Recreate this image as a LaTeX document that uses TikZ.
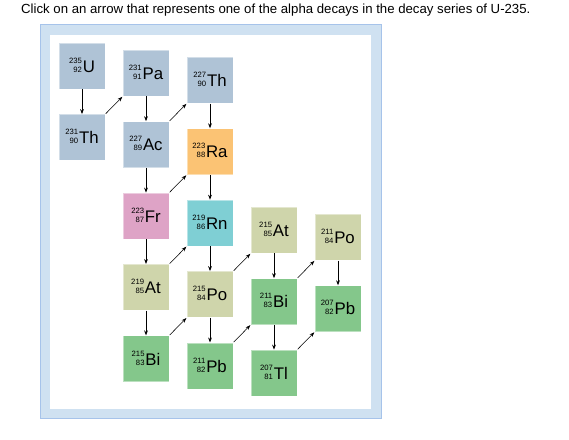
\documentclass[tikz,border=0pt]{standalone}
\usepackage{fontspec}
\setmainfont{Liberation Sans}
\usetikzlibrary{arrows.meta}
\definecolor{frameband}{HTML}{CFE1F1}
\definecolor{frameline}{HTML}{A6C3EA}
\definecolor{cgrey}{HTML}{AFC3D6}
\definecolor{corange}{HTML}{FBC374}
\definecolor{cpink}{HTML}{DEA3C6}
\definecolor{ccyan}{HTML}{7FCFD4}
\definecolor{ckhaki}{HTML}{CFD5AB}
\definecolor{cgreen}{HTML}{84C78B}
\newcommand\nuc[3]{{\fontsize{7.7}{9}\selectfont\begin{tabular}[b]{@{}r@{}}#1\\#2\end{tabular}}\kern0.8pt{\fontsize{16.8}{18}\selectfont #3}}
\tikzset{
  nbox/.style={minimum width=46pt, minimum height=46pt, inner sep=0pt, draw=white, draw opacity=0.45, line width=0.6pt},
  betaarrow/.style={-{Stealth[length=5pt,width=3.8pt]}, line width=0.9pt, black},
  alphaarrow/.style={-{Stealth[length=5pt,width=3.6pt]}, line width=0.55pt, black, shorten <=0.5pt, shorten >=0.5pt},
}
\newcommand\pos[2]{({82+64*#1},{66+7.1*#1+71.4*#2})}
\begin{document}
\begin{tikzpicture}[x=1pt,y=-1pt]
\useasboundingbox (0,0) rectangle (569,439);
\node[anchor=west, inner sep=0pt, font=\fontsize{13.2}{15}\selectfont] (title) at (21,10) {Click on an arrow that represents one of the alpha decays in the decay series of U-235.};
\fill[frameband] (40,24) rectangle (382,419);
\draw[frameline, line width=1.4pt] (40.7,24.7) rectangle (381.3,418.3);
\fill[white] (50,35) rectangle (371,409);
% column 0
\node[nbox, fill=cgrey] (U235) at \pos{0}{0} {\nuc{235}{92}{U}};
\node[nbox, fill=cgrey] (Th231) at \pos{0}{1} {\nuc{231}{90}{Th}};
% column 1
\node[nbox, fill=cgrey] (Pa231) at \pos{1}{0} {\nuc{231}{91}{Pa}};
\node[nbox, fill=cgrey] (Ac227) at \pos{1}{1} {\nuc{227}{89}{Ac}};
\node[nbox, fill=cpink] (Fr223) at \pos{1}{2} {\nuc{223}{87}{Fr}};
\node[nbox, fill=ckhaki] (At219) at \pos{1}{3} {\nuc{219}{85}{At}};
\node[nbox, fill=cgreen] (Bi215) at \pos{1}{4} {\nuc{215}{83}{Bi}};
% column 2
\node[nbox, fill=cgrey] (Th227) at \pos{2}{0} {\nuc{227}{90}{Th}};
\node[nbox, fill=corange] (Ra223) at \pos{2}{1} {\nuc{223}{88}{Ra}};
\node[nbox, fill=ccyan] (Rn219) at \pos{2}{2} {\nuc{219}{86}{Rn}};
\node[nbox, fill=ckhaki] (Po215) at \pos{2}{3} {\nuc{215}{84}{Po}};
\node[nbox, fill=cgreen] (Pb211) at \pos{2}{4} {\nuc{211}{82}{Pb}};
% column 3
\node[nbox, fill=ckhaki] (At215) at \pos{3}{2} {\nuc{215}{85}{At}};
\node[nbox, fill=cgreen] (Bi211) at \pos{3}{3} {\nuc{211}{83}{Bi}};
\node[nbox, fill=cgreen] (Tl207) at \pos{3}{4} {\nuc{207}{81}{Tl}};
% column 4
\node[nbox, fill=ckhaki] (Po211) at \pos{4}{2} {\nuc{211}{84}{Po}};
\node[nbox, fill=cgreen] (Pb207) at \pos{4}{3} {\nuc{207}{82}{Pb}};
% vertical arrows
\foreach \a/\b in {U235/Th231, Pa231/Ac227, Ac227/Fr223, Fr223/At219, At219/Bi215,
  Th227/Ra223, Ra223/Rn219, Rn219/Po215, Po215/Pb211, At215/Bi211, Bi211/Tl207, Po211/Pb207}
  \draw[betaarrow] (\a.south) -- (\b.north);
% diagonal arrows
\foreach \a/\b in {Th231/Pa231, Ac227/Th227, Fr223/Ra223, At219/Rn219, Bi215/Po215,
  Po215/At215, Pb211/Bi211, Bi211/Po211, Tl207/Pb207}
  \draw[alphaarrow] (\a.north east) -- (\b.south west);
\end{tikzpicture}
\end{document}
